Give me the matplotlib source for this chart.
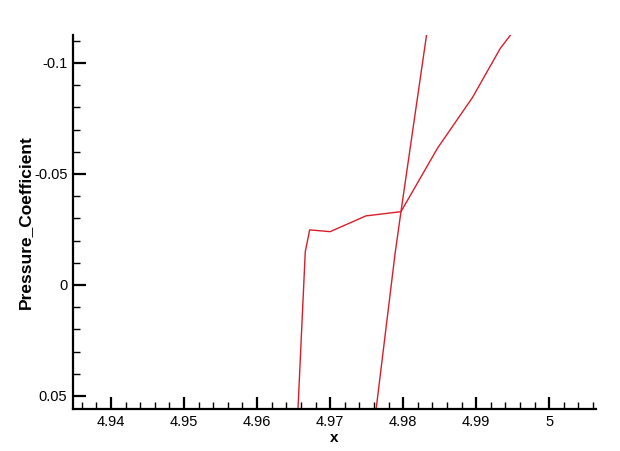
import numpy as np
import matplotlib.pyplot as plt
from matplotlib.ticker import MultipleLocator, FuncFormatter

plt.rcParams['font.family'] = ['Liberation Sans', 'DejaVu Sans']

# curve (x, Pressure_Coefficient)
x_upper = [4.9654, 4.9656, 4.9666, 4.9672, 4.9700, 4.9749, 4.9797, 4.9847, 4.9895, 4.9933, 4.9947, 4.9960]
cp_upper = [0.0650, 0.0559, -0.0150, -0.0248, -0.0240, -0.0311, -0.0330, -0.0616, -0.0845, -0.1066, -0.1126, -0.1180]

x_lower = [4.9761, 4.9763, 4.9789, 4.9797, 4.9832, 4.9835]
cp_lower = [0.0650, 0.0559, -0.0143, -0.0330, -0.1126, -0.1180]

line_color = '#d91e2b'

fig = plt.figure(figsize=(6.2, 4.51), dpi=100)
ax = fig.add_axes([73/620, 1 - 409/451, (596 - 73)/620, (409 - 35)/451])

ax.plot(x_upper, cp_upper, color=line_color, linewidth=1.0)
ax.plot(x_lower, cp_lower, color=line_color, linewidth=1.0)

ax.set_xlim(4.9348, 5.0064)
ax.set_ylim(0.0559, -0.1126)

ax.spines['top'].set_visible(False)
ax.spines['right'].set_visible(False)
ax.spines['left'].set_linewidth(1.6)
ax.spines['bottom'].set_linewidth(1.6)

ax.xaxis.set_major_locator(MultipleLocator(0.01))
ax.xaxis.set_minor_locator(MultipleLocator(0.002))
ax.yaxis.set_major_locator(MultipleLocator(0.05))
ax.yaxis.set_minor_locator(MultipleLocator(0.01))

fmt = FuncFormatter(lambda v, p: ('%g' % round(v, 4)))
ax.xaxis.set_major_formatter(fmt)
ax.yaxis.set_major_formatter(fmt)

ax.tick_params(which='major', direction='in', length=9, width=1.6, labelsize=10.5, pad=4)
ax.tick_params(which='minor', direction='in', length=5, width=1.0)

ax.set_xlabel('x', fontsize=11, fontweight='bold')
ax.set_ylabel('Pressure_Coefficient', fontsize=12.5, fontweight='bold')
ax.xaxis.set_label_coords(0.5, -0.06)
ax.yaxis.set_label_coords(-0.077, 0.5)

fig.savefig('out.png', dpi=100)
